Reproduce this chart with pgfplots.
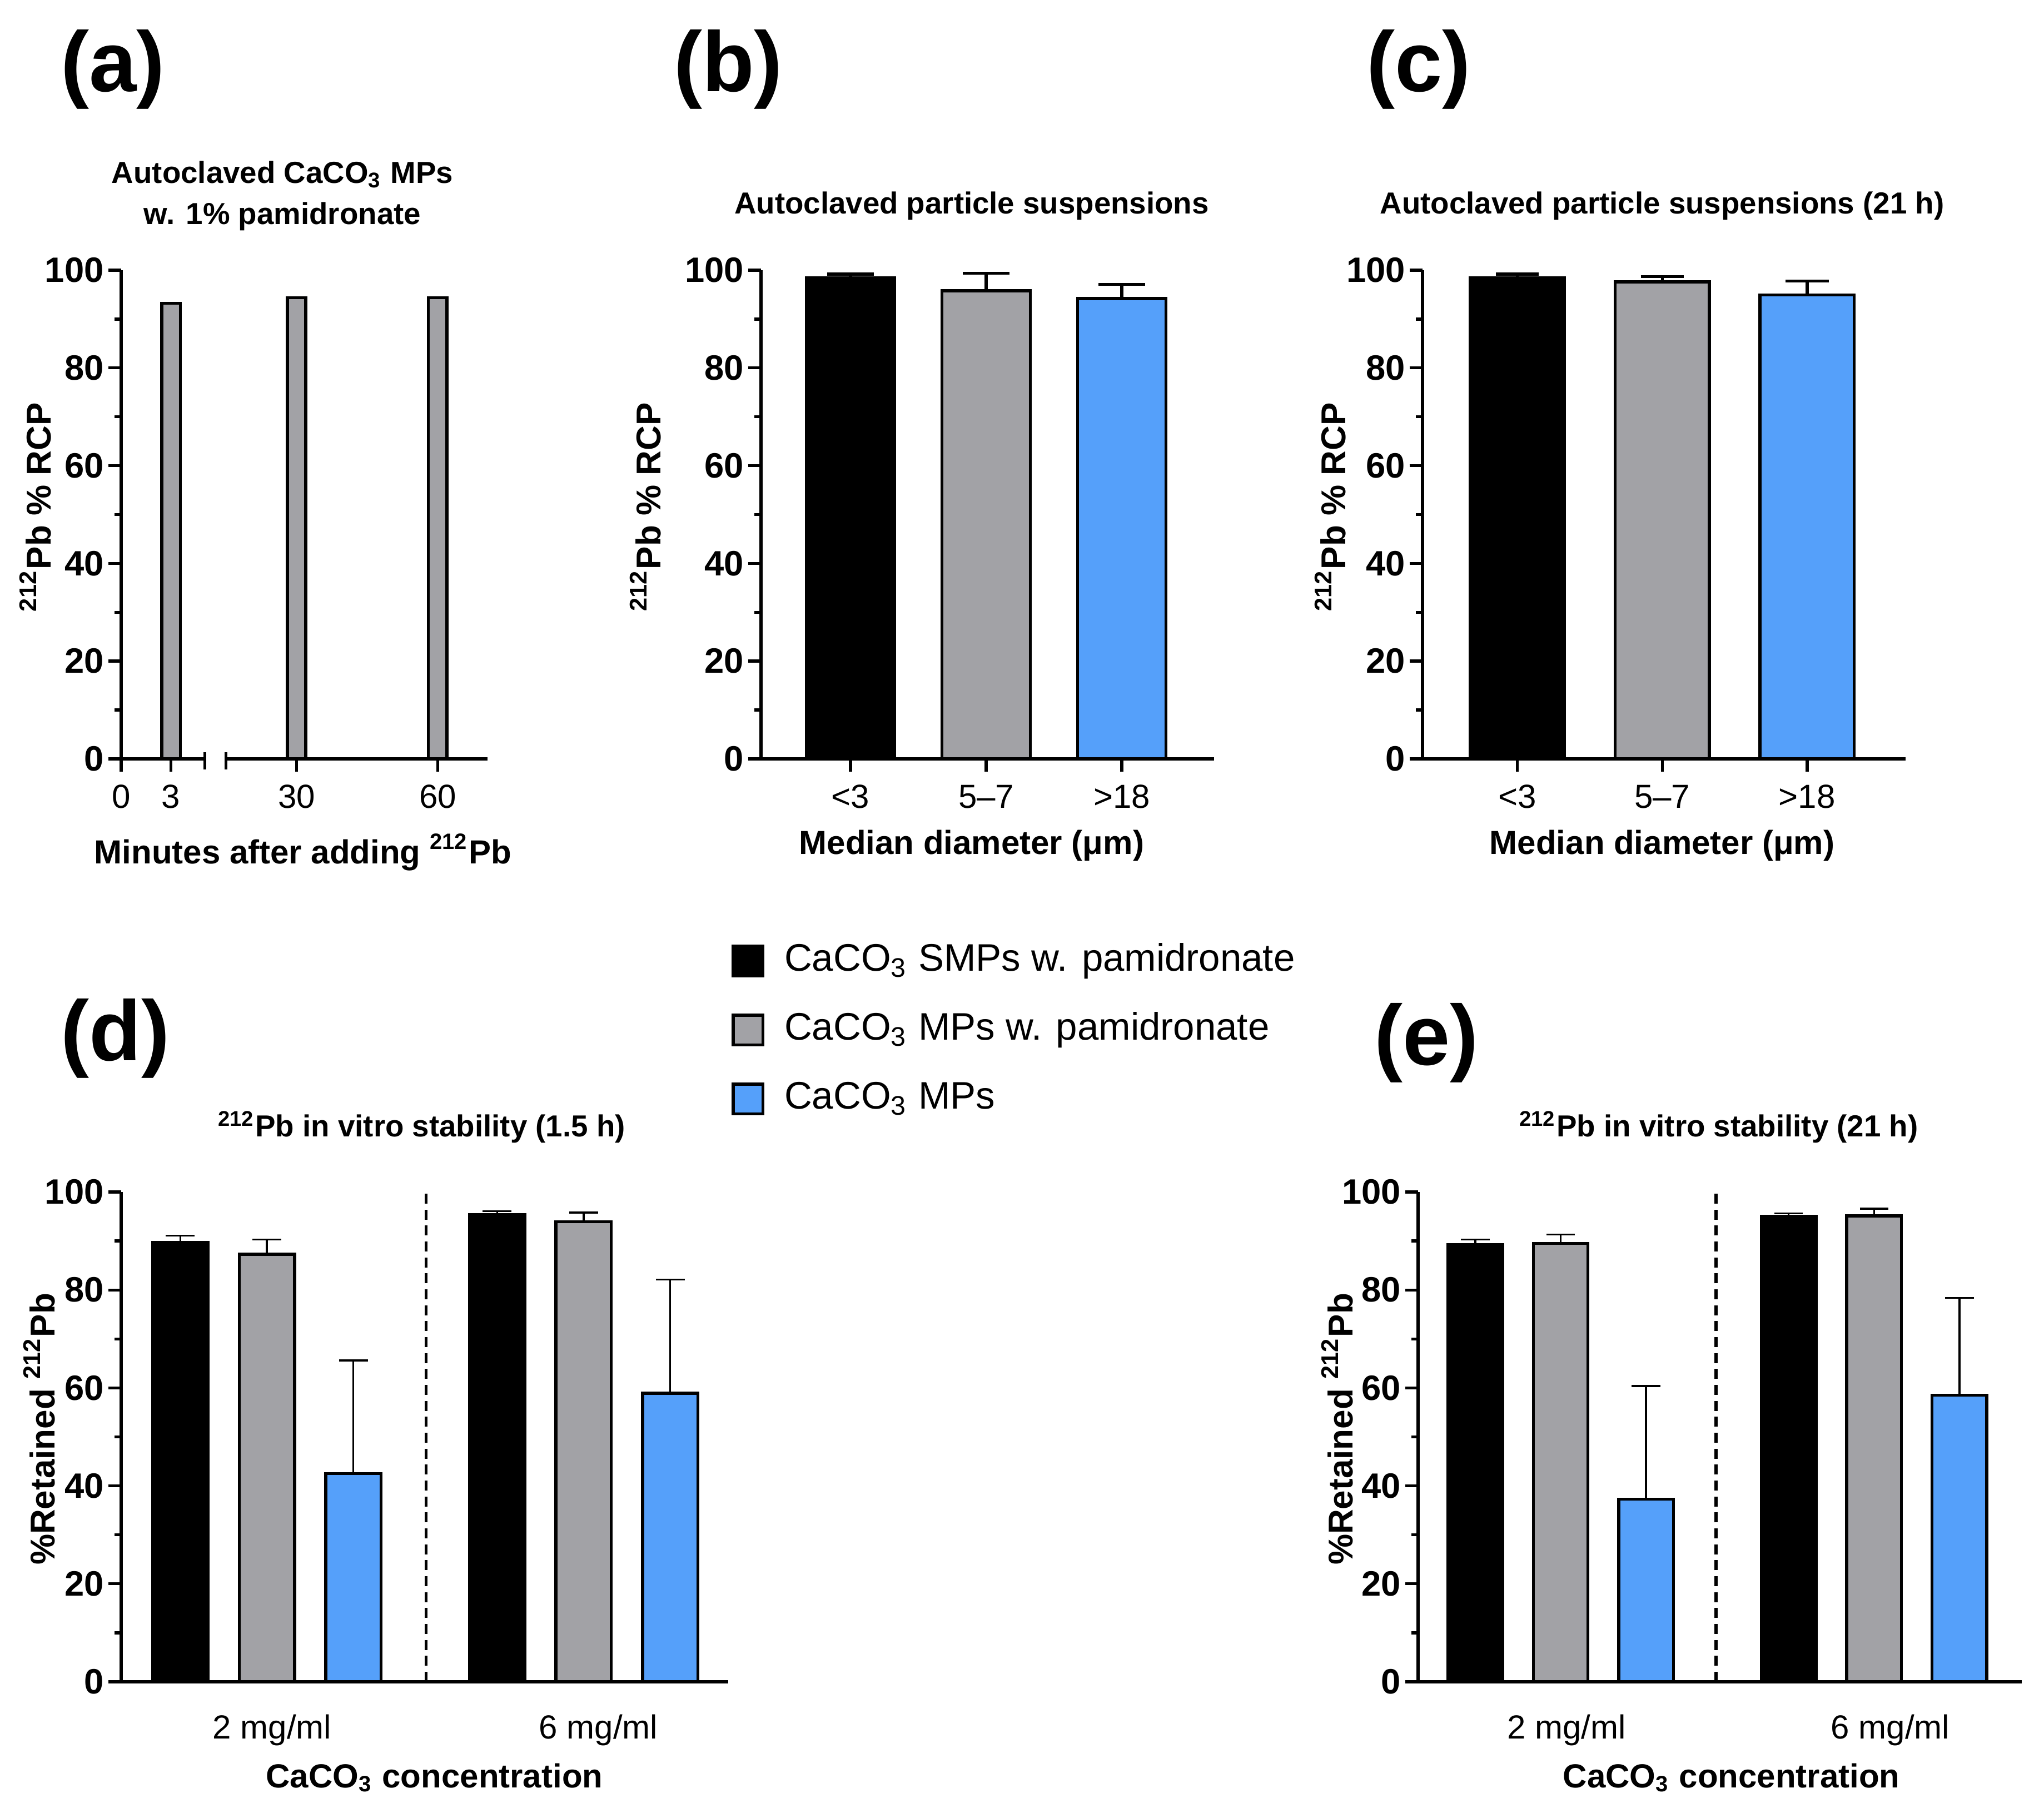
\documentclass[border=0pt]{standalone}
\usepackage{fontspec}
\setmainfont{Liberation Sans}
\usepackage{pgfplots}
\pgfplotsset{compat=1.18}
\definecolor{bargrey}{RGB}{162,162,166}
\definecolor{barblue}{RGB}{85,160,250}

\pgfplotsset{
  panel/.style={
    scale only axis, anchor=south west,
    axis lines*=left,
    axis line style={line width=0.8pt, -},
    ymin=0, ymax=100, ytick={0,20,40,60,80,100}, minor ytick={10,30,50,70,90},
    enlargelimits=false, clip=false,
    tick align=outside,
    major tick length=3.5pt, minor tick length=1.8pt,
    every tick/.style={black, line width=0.8pt},
    yticklabel style={font=\bfseries\fontsize{9.5}{11}\selectfont, inner xsep=1pt},
    xticklabel style={font=\fontsize{9}{11}\selectfont},
    /pgf/number format/assume math mode=true,
  },
  bbar/.style={ybar, bar shift=0pt, draw=black, line width=0.8pt},
  thickerr/.style={error bars/.cd, y dir=plus, y explicit,
    error bar style={line width=0.8pt, black},
    error mark options={rotate=90, line width=0.8pt, black, mark size=#1}},
  thinerr/.style={error bars/.cd, y dir=plus, y explicit,
    error bar style={line width=0.5pt, black},
    error mark options={rotate=90, line width=0.5pt, black, mark size=#1}},
}

\begin{document}
\begin{tikzpicture}
\useasboundingbox (0,0) rectangle (551.55pt,486.45pt);

% ---------------- (a) ----------------
\begin{axis}[panel, at={(32.7pt,281.7pt)}, width=98.85pt, height=131.85pt,
  xmin=0, xmax=22.06, xtick={0,3,10.56,19.06}, xticklabels={0,3,30,60},
  x axis line style={draw=none},
  bar width=1.11,
  title={Autoclaved CaCO\textsubscript{3} MPs\\w. 1\% pamidronate},
  every axis title/.style={at={(axis description cs:0.44,1.152)}, anchor=center, align=center, font=\bfseries\fontsize{8.2}{11.1}\selectfont},
  xlabel={Minutes after adding \textsuperscript{212}Pb},
  every axis x label/.style={at={(axis description cs:0.496,-0.191)}, anchor=center, font=\bfseries\fontsize{9}{11}\selectfont},
  ylabel={\textsuperscript{212}Pb \% RCP},
  every axis y label/.style={at={(axis description cs:-0.234,0.515)}, anchor=center, rotate=90, font=\bfseries\fontsize{9.3}{11}\selectfont},
]
\addplot[bbar, fill=bargrey] coordinates {(3,93.2) (10.56,94.4) (19.06,94.4)};
\draw[line width=0.8pt] (axis cs:0,0) -- (axis cs:5.03,0);
\draw[line width=0.8pt] (axis cs:6.32,0) -- (axis cs:22.06,0);
\draw[line width=0.8pt] ([yshift=1.8pt]axis cs:5.03,0) -- ([yshift=-2.8pt]axis cs:5.03,0);
\draw[line width=0.8pt] ([yshift=1.8pt]axis cs:6.32,0) -- ([yshift=-2.8pt]axis cs:6.32,0);
\end{axis}

% ---------------- (b) ----------------
\begin{axis}[panel, at={(205.35pt,281.7pt)}, width=122.25pt, height=131.85pt,
  xmin=-0.66, xmax=2.68, xtick={0,1,2}, xticklabels={<3,5--7,>18},
  bar width=0.65,
  title={Autoclaved particle suspensions},
  every axis title/.style={at={(axis description cs:0.465,1.132)}, anchor=center, font=\bfseries\fontsize{8.2}{11}\selectfont},
  xlabel={Median diameter (μm)},
  every axis x label/.style={at={(axis description cs:0.465,-0.177)}, anchor=center, font=\bfseries\fontsize{9}{11}\selectfont},
  ylabel={\textsuperscript{212}Pb \% RCP},
  every axis y label/.style={at={(axis description cs:-0.255,0.515)}, anchor=center, rotate=90, font=\bfseries\fontsize{9.3}{11}\selectfont},
]
\addplot[bbar, fill=black, thickerr=6.3pt] coordinates {(0,98.4) +- (0,0.8)};
\addplot[bbar, fill=bargrey, thickerr=6.3pt] coordinates {(1,95.8) +- (0,3.6)};
\addplot[bbar, fill=barblue, thickerr=6.3pt] coordinates {(2,94.2) +- (0,2.9)};
\end{axis}

% ---------------- (c) ----------------
\begin{axis}[panel, at={(383.85pt,281.7pt)}, width=130.35pt, height=131.85pt,
  xmin=-0.655, xmax=2.68, xtick={0,1,2}, xticklabels={<3,5--7,>18},
  bar width=0.65,
  title={Autoclaved particle suspensions (21 h)},
  every axis title/.style={at={(axis description cs:0.496,1.132)}, anchor=center, font=\bfseries\fontsize{8.2}{11}\selectfont},
  xlabel={Median diameter (μm)},
  every axis x label/.style={at={(axis description cs:0.496,-0.177)}, anchor=center, font=\bfseries\fontsize{9}{11}\selectfont},
  ylabel={\textsuperscript{212}Pb \% RCP},
  every axis y label/.style={at={(axis description cs:-0.191,0.515)}, anchor=center, rotate=90, font=\bfseries\fontsize{9.3}{11}\selectfont},
]
\addplot[bbar, fill=black, thickerr=5.8pt] coordinates {(0,98.4) +- (0,0.8)};
\addplot[bbar, fill=bargrey, thickerr=5.8pt] coordinates {(1,97.6) +- (0,1.1)};
\addplot[bbar, fill=barblue, thickerr=5.8pt] coordinates {(2,94.9) +- (0,2.9)};
\end{axis}

% ---------------- (d) ----------------
\begin{axis}[panel, at={(32.7pt,32.7pt)}, width=163.8pt, height=132.15pt,
  xmin=0.317, xmax=7.33, xtick={2.06,5.83}, xticklabels={2 mg/ml,6 mg/ml},
  xtick style={draw=none}, xticklabel style={yshift=-1.8pt},
  bar width=0.64,
  title={\textsuperscript{212}Pb in vitro stability (1.5 h)},
  every axis title/.style={at={(axis description cs:0.495,1.132)}, anchor=center, font=\bfseries\fontsize{8.2}{11}\selectfont},
  xlabel={CaCO\textsubscript{3} concentration},
  every axis x label/.style={at={(axis description cs:0.516,-0.196)}, anchor=center, font=\bfseries\fontsize{9}{11}\selectfont},
  ylabel={\%Retained \textsuperscript{212}Pb},
  every axis y label/.style={at={(axis description cs:-0.135,0.516)}, anchor=center, rotate=90, font=\bfseries\fontsize{9.3}{11}\selectfont},
]
\addplot[bbar, fill=black, thinerr=3.9pt] coordinates {(1,89.7) +- (0,1.4) (4.66,95.4) +- (0,0.7)};
\addplot[bbar, fill=bargrey, thinerr=3.9pt] coordinates {(2,87.3) +- (0,3.0) (5.66,93.9) +- (0,1.9)};
\addplot[bbar, fill=barblue, thinerr=3.9pt] coordinates {(3,42.5) +- (0,23.1) (6.66,58.9) +- (0,23.2)};
\draw[line width=0.8pt, dash pattern=on 2.7pt off 1.6pt] (axis cs:3.84,0) -- (axis cs:3.84,100);
\end{axis}

% ---------------- (e) ----------------
\begin{axis}[panel, at={(382.65pt,32.7pt)}, width=162.9pt, height=132.15pt,
  xmin=0.33, xmax=7.4, xtick={2.07,5.86}, xticklabels={2 mg/ml,6 mg/ml},
  xtick style={draw=none}, xticklabel style={yshift=-1.8pt},
  bar width=0.64,
  title={\textsuperscript{212}Pb in vitro stability (21 h)},
  every axis title/.style={at={(axis description cs:0.498,1.132)}, anchor=center, font=\bfseries\fontsize{8.2}{11}\selectfont},
  xlabel={CaCO\textsubscript{3} concentration},
  every axis x label/.style={at={(axis description cs:0.519,-0.196)}, anchor=center, font=\bfseries\fontsize{9}{11}\selectfont},
  ylabel={\%Retained \textsuperscript{212}Pb},
  every axis y label/.style={at={(axis description cs:-0.134,0.516)}, anchor=center, rotate=90, font=\bfseries\fontsize{9.3}{11}\selectfont},
]
\addplot[bbar, fill=black, thinerr=3.85pt] coordinates {(1,89.2) +- (0,1.1) (4.67,95.0) +- (0,0.6)};
\addplot[bbar, fill=bargrey, thinerr=3.85pt] coordinates {(2,89.5) +- (0,1.8) (5.67,95.1) +- (0,1.5)};
\addplot[bbar, fill=barblue, thinerr=3.85pt] coordinates {(3,37.3) +- (0,23.1) (6.67,58.5) +- (0,19.9)};
\draw[line width=0.8pt, dash pattern=on 2.7pt off 1.6pt] (axis cs:3.82,0) -- (axis cs:3.82,100);
\end{axis}

% ---------------- legend ----------------
\begin{axis}[hide axis, scale only axis, width=20pt, height=20pt,
  at={(197.25pt,232.6pt)}, anchor=north west,
  xmin=0, xmax=1, ymin=0, ymax=1,
  legend cell align=left,
  legend style={at={(0,1)}, anchor=north west, draw=none, fill=none, inner sep=0pt,
    row sep=8.1pt, font=\fontsize{10.35}{12}\selectfont,
    nodes={inner sep=0pt, text height=8pt, text depth=2.5pt},
    /tikz/every odd column/.style={column sep=5.4pt}},
  legend image code/.code={\draw[#1, line width=0.8pt] (0pt,-4pt) rectangle (8pt,4pt);},
]
\addlegendimage{fill=black, draw=black}
\addlegendentry{CaCO\textsubscript{3} SMPs w. pamidronate}
\addlegendimage{fill=bargrey, draw=black}
\addlegendentry{CaCO\textsubscript{3} MPs w. pamidronate}
\addlegendimage{fill=barblue, draw=black}
\addlegendentry{CaCO\textsubscript{3} MPs}
\end{axis}

% ---------------- panel letters ----------------
\node[anchor=north west, inner sep=0pt, font=\bfseries\fontsize{23}{27}\selectfont] at (16.2pt,478.65pt) {(a)};
\node[anchor=north west, inner sep=0pt, font=\bfseries\fontsize{23}{27}\selectfont] at (181.6pt,478.65pt) {(b)};
\node[anchor=north west, inner sep=0pt, font=\bfseries\fontsize{23}{27}\selectfont] at (368.5pt,478.65pt) {(c)};
\node[anchor=north west, inner sep=0pt, font=\bfseries\fontsize{23}{27}\selectfont] at (16.2pt,217.2pt) {(d)};
\node[anchor=north west, inner sep=0pt, font=\bfseries\fontsize{23}{27}\selectfont] at (370.6pt,216pt) {(e)};
\end{tikzpicture}
\end{document}
